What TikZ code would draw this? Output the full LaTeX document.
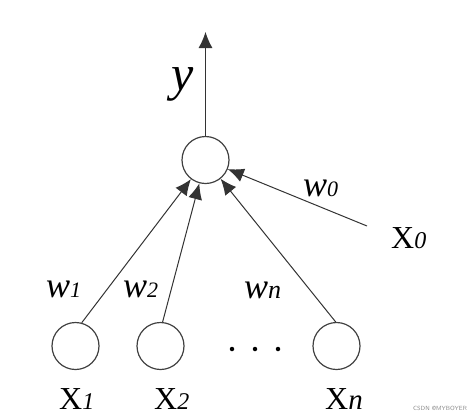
\documentclass[tikz,border=0pt]{standalone}
\usepackage{fontspec}
\setmainfont{Liberation Serif}
\usetikzlibrary{arrows.meta}
\begin{document}
\begin{tikzpicture}[x=1pt,y=-1pt,
  neuron/.style={circle,draw=black!75,line width=1.2pt,minimum size=47pt,inner sep=0pt},
  conn/.style={draw=black!80,line width=1pt,-{Latex[length=16pt,width=14pt]}},
  xlab/.style={font=\fontsize{32}{34}\selectfont,inner sep=0pt},
  wlab/.style={font=\fontsize{36}{38}\selectfont\itshape,inner sep=0pt},
  dot/.style={circle,fill=black,inner sep=0pt,minimum size=4.5pt}]
\useasboundingbox (0,0) rectangle (474,416);
\node[neuron] (top) at (205.5,160) {};
\node[neuron] (x1) at (75.5,346) {};
\node[neuron] (x2) at (160.5,346) {};
\node[neuron] (xn) at (336.5,346) {};
\coordinate (x0) at (367,226);
\coordinate (out) at (205.5,32);
\node[dot] (d1) at (232,349) {};
\node[dot] (d2) at (255,349) {};
\node[dot] (d3) at (278,349) {};
\draw[conn] (top) -- (out);
\draw[conn] (x1.75) -- (top);
\draw[conn] (x2.85) -- (top);
\draw[conn] (xn.92) -- (top);
\draw[conn] (x0) -- (top);
\node[font=\fontsize{50}{52}\selectfont\itshape,inner sep=0pt] (ylab) at (183,84) {y};
\node[wlab,anchor=base west] (w1) at (46,297) {w\fontsize{22}{24}\selectfont 1};
\node[wlab,anchor=base west] (w2) at (123,297) {w\fontsize{22}{24}\selectfont 2};
\node[wlab,anchor=base west] (wn) at (244,298) {w\fontsize{26}{28}\selectfont n};
\node[wlab,anchor=base west] (w0) at (303,196) {w\fontsize{22}{24}\selectfont 0};
\node[xlab,anchor=base west] (lx1) at (59,409) {X\textit{\fontsize{24}{26}\selectfont 1}};
\node[xlab,anchor=base west] (lx2) at (154,409) {X\textit{\fontsize{24}{26}\selectfont 2}};
\node[xlab,anchor=base west] (lxn) at (325,409) {X\textit{\fontsize{29}{30}\selectfont n}};
\node[xlab,anchor=base west] (lx0) at (391,248) {X\textit{\fontsize{24}{26}\selectfont 0}};
\node[font=\fontsize{6}{7}\selectfont\sffamily,text=black!45,inner sep=0pt] (wm) at (440,408) {CSDN @MYBOYER};
\end{tikzpicture}
\end{document}
